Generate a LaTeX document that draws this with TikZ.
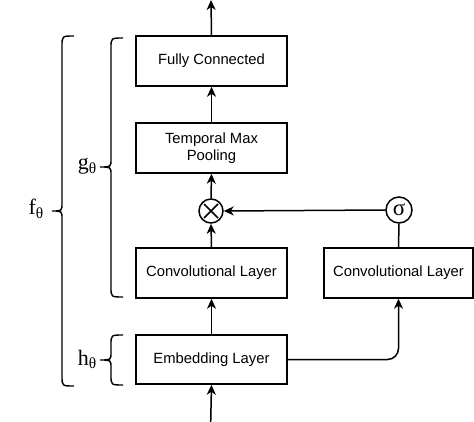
\documentclass[tikz,border=0pt]{standalone}
\usepackage{fontspec}
\setmainfont{Liberation Sans}
\newfontfamily\serifgr{Liberation Serif}
\usetikzlibrary{arrows.meta,calc}
\tikzset{
  layer/.style={draw, line width=1.5pt, minimum width=151pt, minimum height=50pt, inner sep=0pt, align=center, font=\fontsize{14.8}{17.5}\selectfont},
  conn/.style={line width=1.5pt, -{Stealth[length=10pt,width=9pt,inset=3pt]}},
  plain/.style={line width=1.5pt},
  brc/.style={line width=1.4pt},
  blab/.style={inner sep=0pt, font=\serifgr\fontsize{22}{25}\selectfont},
  op/.style={draw, circle, line width=1.5pt, inner sep=0pt},
}
\newcommand{\mybrace}[6]{% xend spine tip ytop ymid ybot
  \draw[brc] (#1,#4) .. controls (#2,#4) .. (#2,#4+10) -- (#2,#5-8) .. controls (#2,#5) .. (#3,#5)
     .. controls (#2,#5) .. (#2,#5+8) -- (#2,#6-10) .. controls (#2,#6) .. (#1,#6);}
\begin{document}
\begin{tikzpicture}[x=1pt,y=-1pt]
\useasboundingbox (0,0) rectangle (474,422);
\node[layer] (fc) at (211.5,61) {Fully Connected};
\node[layer] (tmp) at (211.5,148) {Temporal Max\\Pooling};
\node[op, minimum size=24pt] (mul) at (211,211) {};
\draw[plain] ($(mul.center)+(-7,-7)$) -- ($(mul.center)+(7,7)$);
\draw[plain] ($(mul.center)+(-7,7)$) -- ($(mul.center)+(7,-7)$);
\node[layer] (conv1) at (211.5,273) {Convolutional Layer};
\node[layer, minimum width=149pt] (conv2) at (398.5,273) {Convolutional Layer};
\node[layer, minimum height=49pt] (emb) at (211.5,359.5) {Embedding Layer};
\node[op, minimum size=26pt, font=\serifgr\fontsize{23}{25}\selectfont] (sig) at (399,210) {σ};
\coordinate (topend) at (211,0);
\coordinate (botend) at (210.7,422);
\draw[conn] (fc.north) -- (topend);
\draw[conn] (tmp.north) -- (fc.south);
\draw[conn] (mul.north) -- (tmp.south);
\draw[conn] (conv1.north) -- (mul.south);
\draw[conn] (emb.north) -- (conv1.south);
\draw[conn] (botend) -- (emb.south);
\draw[conn] (sig.west) -- (mul.east);
\draw[plain] (conv2.north) -- (sig.south);
\draw[conn, rounded corners=11pt] (emb.east) -| (conv2.south);
\mybrace{74}{62}{52}{36}{211}{386}
\mybrace{123}{111}{100}{38}{167}{297}
\mybrace{123}{111}{100}{335}{360}{385}
\node[blab, anchor=base east] (glab) at (97,170) {g\textsubscript{θ}};
\node[blab, anchor=base east] (flab) at (44,215) {f\textsubscript{θ}};
\node[blab, anchor=base east] (hlab) at (97,365) {h\textsubscript{θ}};
\end{tikzpicture}
\end{document}
